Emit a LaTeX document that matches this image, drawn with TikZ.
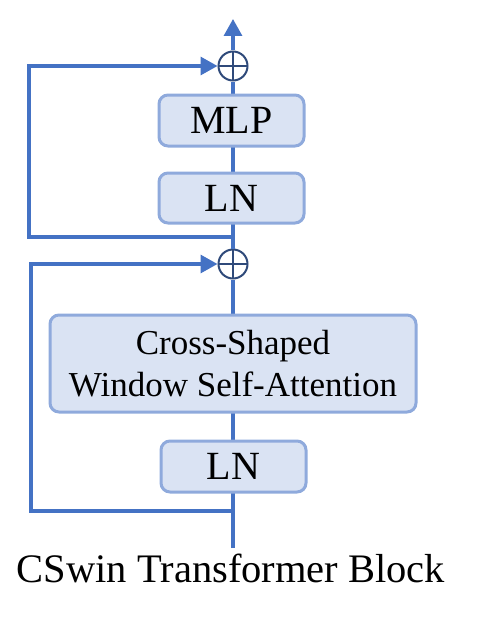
\documentclass[tikz,border=0pt]{standalone}
\usepackage{fontspec}
\setmainfont{Liberation Serif}
\usetikzlibrary{arrows.meta,calc}
\definecolor{lineblue}{HTML}{4472C4}
\definecolor{boxfill}{HTML}{DAE3F3}
\definecolor{boxdraw}{HTML}{8FAADC}
\definecolor{plusnavy}{HTML}{2F4A7A}
\begin{document}
\begin{tikzpicture}[x=1pt,y=-1pt,
  blk/.style={draw=boxdraw,fill=boxfill,line width=3pt,rounded corners=9pt,inner sep=0pt,font=\fontsize{40}{44}\selectfont},
  conn/.style={draw=lineblue,line width=3.2pt},
  plusnode/.style={circle,draw=plusnavy,line width=2pt,minimum size=29pt,inner sep=0pt,
    path picture={\draw[plusnavy,line width=2pt] (path picture bounding box.north) -- (path picture bounding box.south) (path picture bounding box.west) -- (path picture bounding box.east);}},
  tip/.style={-{Triangle[length=17pt,width=18pt]}}]
\useasboundingbox (0,0) rectangle (477,626);
% branch coordinates
\coordinate (in) at (233,548);
\coordinate (b1) at (233,511);
\coordinate (l1) at (31,511);
\coordinate (b2) at (233,237);
\coordinate (l2) at (29,237);
\coordinate (out) at (233,19);
% plus nodes
\node[plusnode] (p1) at (233,264) {};
\node[plusnode] (p2) at (233,66) {};
% main line
\draw[conn] (in) -- (p1.south);
\draw[conn] (p1.north) -- (p2.south);
\draw[conn,tip] (p2.north) -- (out);
% blocks
\node[blk,minimum width=145pt,minimum height=51pt] (ln1) at (233.5,466.5) {LN};
\node[blk,minimum width=366pt,minimum height=97pt,font=\fontsize{35}{42}\selectfont,align=center] (attn) at (233,363.5) {Cross-Shaped\\Window Self-Attention};
\node[blk,minimum width=145pt,minimum height=50pt] (ln2) at (231.5,198) {LN};
\node[blk,minimum width=145pt,minimum height=51pt] (mlp) at (231.5,120.5) {MLP};
% skip connections
\draw[conn,tip] (b1) -- (l1) |- (p1.west);
\draw[conn,tip] (b2) -- (l2) |- (p2.west);
% title
\node[font=\fontsize{40.5}{44}\selectfont,anchor=base] (title) at (231,582) {CSwin Transformer Block};
\end{tikzpicture}
\end{document}
